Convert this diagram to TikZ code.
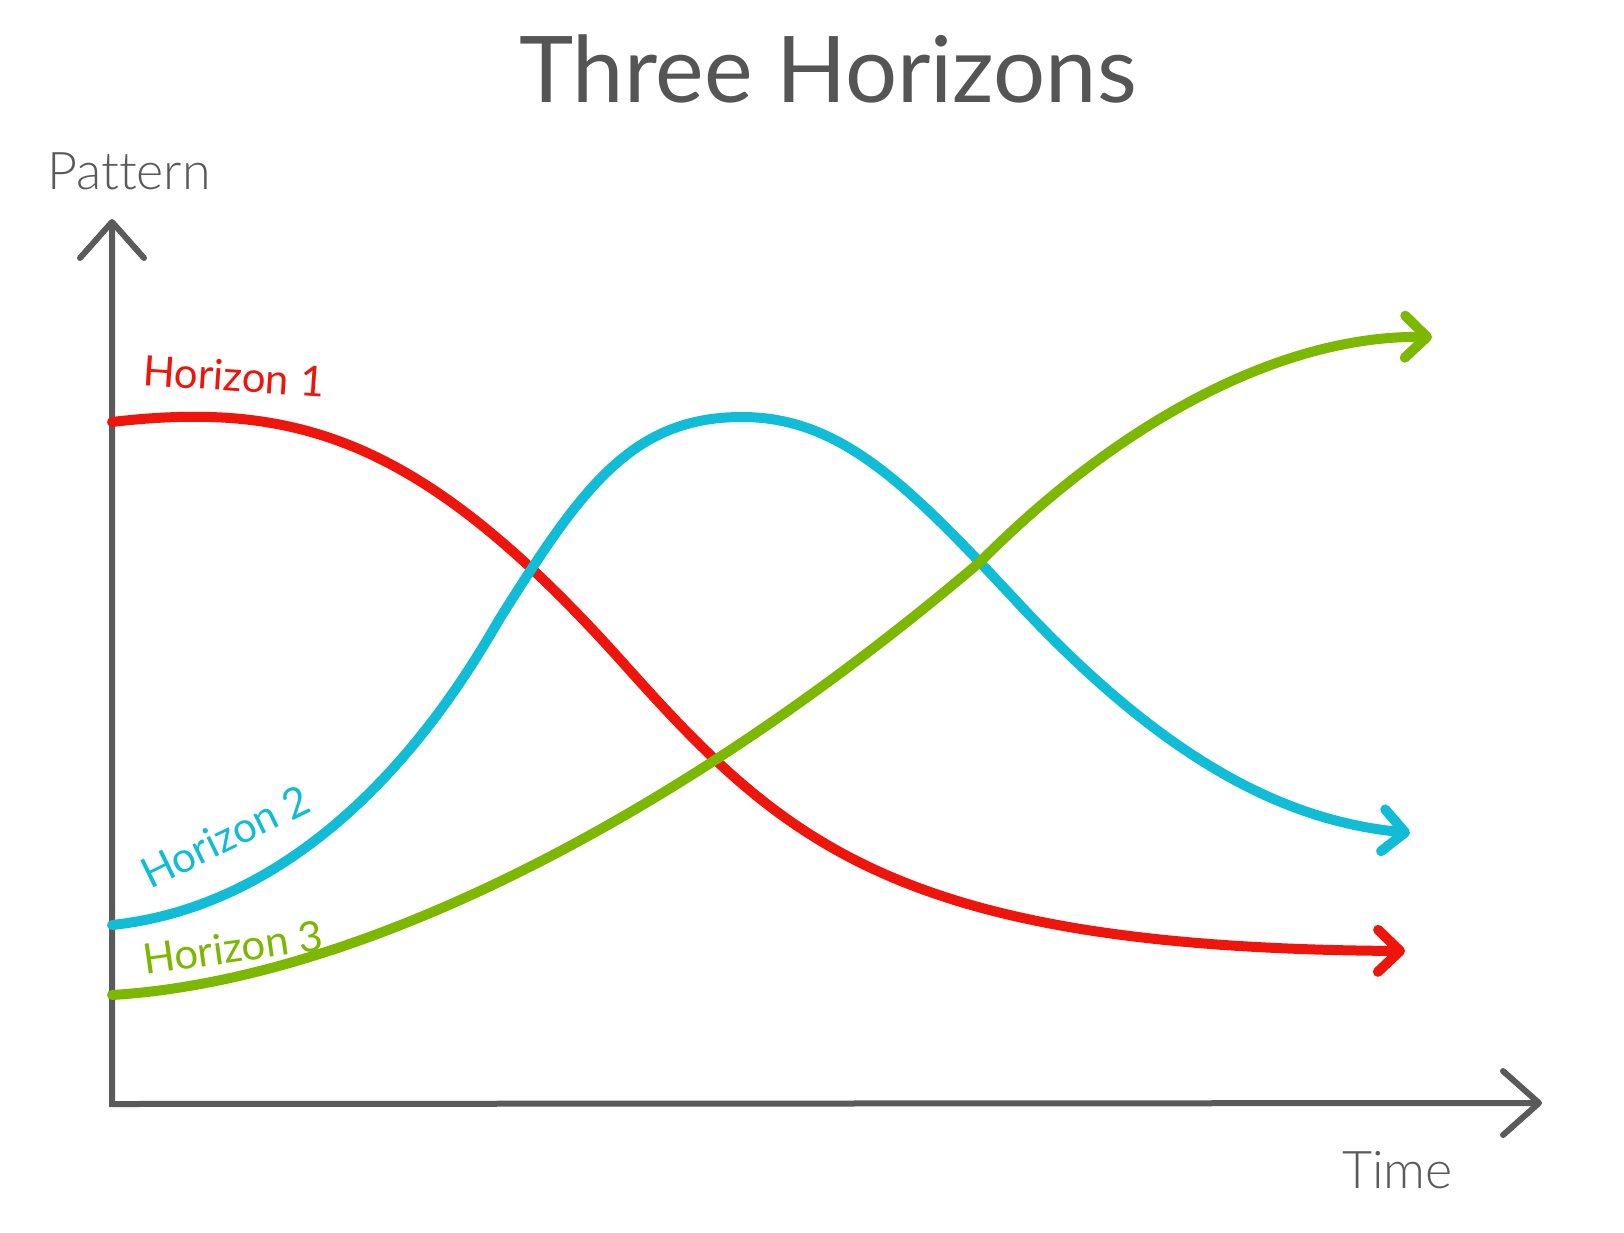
\documentclass[tikz,border=0pt]{standalone}
\usepackage{fontspec}
\setmainfont{Lato}
\newfontfamily\lightfont[Ligatures=NoCommon]{Lato Light}
\usetikzlibrary{arrows.meta}
\definecolor{hred}{RGB}{238,22,12}
\definecolor{hblue}{RGB}{16,188,214}
\definecolor{hgreen}{RGB}{124,184,0}
\definecolor{axisgray}{RGB}{90,90,90}
\definecolor{titlegray}{RGB}{85,85,85}
\begin{document}
\begin{tikzpicture}[x=1pt,y=-1pt,
  axisline/.style={draw=axisgray, line width=6pt, line join=miter,
    {Straight Barb[round,length=36pt,width=64pt]}-{Straight Barb[round,length=36pt,width=64pt]}},
  hcurve/.style={line width=10pt, line cap=round,
    -{Straight Barb[round,length=22pt,width=42pt]}},
  hlabel/.style={anchor=base west, inner sep=0pt, font=\fontsize{42}{48}\selectfont},
  axislabel/.style={anchor=base west, inner sep=0pt, text=axisgray, font=\lightfont\fontsize{52}{60}\selectfont}
]
\useasboundingbox[fill=white] (0,0) rectangle (1624,1232);

% title
\node[anchor=base, inner sep=0pt, text=titlegray, font=\fontsize{92}{100}\selectfont] (title) at (828,102) {Three Horizons};

% axes
\coordinate (ytip) at (112,219);
\coordinate (origin) at (112,1104);
\coordinate (xtip) at (1542,1103);
\draw[axisline] (ytip) -- (origin) -- (xtip);
\node[axislabel] (pattern) at (47,189) {Pattern};
\node[axislabel] (time) at (1342,1188) {Time};

% curve points
\coordinate (r0) at (112,422);
\coordinate (r1) at (625,665);
\coordinate (r2) at (1405,951);
\coordinate (b0) at (112,925);
\coordinate (b1) at (502,615);
\coordinate (b2) at (742,417);
\coordinate (b3) at (1020,605);
\coordinate (b4) at (1410,833);
\coordinate (g0) at (112,995);
\coordinate (g1) at (980,562);
\coordinate (g2) at (1432,337);

% curves
\draw[hcurve, hred] (r0) .. controls (300,400) and (425,441) .. (r1)
  .. controls (785,844) and (900,948) .. (r2);
\draw[hcurve, hblue] (b0) .. controls (350,900) and (480,650) .. (b1)
  .. controls (582,488) and (632,417) .. (b2)
  .. controls (842,417) and (910,487) .. (b3)
  .. controls (1180,776) and (1300,822) .. (b4);
\draw[hcurve, hgreen] (g0) .. controls (360,980) and (680,817) .. (g1)
  .. controls (1107,434) and (1270,335) .. (g2);

% labels
\node[hlabel, text=hred, rotate=-4] (h1) at (142,385) {Horizon 1};
\node[hlabel, text=hblue, rotate=26] (h2) at (150,890) {Horizon 2};
\node[hlabel, text=hgreen, rotate=8] (h3) at (145,975) {Horizon 3};
\end{tikzpicture}
\end{document}
